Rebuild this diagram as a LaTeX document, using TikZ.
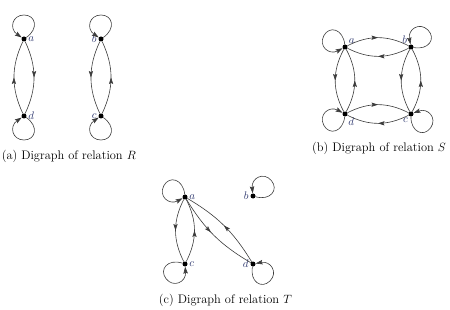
\documentclass[tikz,border=0pt]{standalone}
\usetikzlibrary{arrows.meta,decorations.markings,calc}
\definecolor{edgeGray}{RGB}{60,60,60}
\definecolor{labelBlue}{RGB}{45,55,110}

\begin{document}
\begin{tikzpicture}[
    x=1pt, y=-1pt,
    vtx/.style={circle, fill=black, inner sep=0pt, minimum size=5pt, label distance=4pt},
    lbl/.style={text=labelBlue, inner sep=1.5pt, font=\fontsize{10.5}{11}\selectfont},
    arcedge/.style={draw=edgeGray, line width=0.6pt, postaction={decorate},
        decoration={markings, mark=at position #1 with {\arrow{Stealth[length=6.5pt,width=4.2pt,inset=1.2pt]}}}},
    arcedge/.default=0.5,
    % self-loop: #1 = direction of the loop, #2 = 1 (arrow on the left side) or -1
    selfloop/.style 2 args={draw=edgeGray, line width=0.6pt, -{Stealth[length=7pt,width=4.5pt,inset=1.2pt]},
        to path={.. controls ($(\tikztostart)+({#1-56*#2}:18pt)$)
                 and ($(\tikztostart)+(#1:24pt)+({#1-90*#2}:12pt)$) .. ($(\tikztostart)+(#1:24pt)$)
                 .. controls ($(\tikztostart)+(#1:24pt)+({#1+90*#2}:12pt)$)
                 and ($(\tikztotarget)+({#1+56*#2}:18pt)$) .. (\tikztotarget)}},
    capt/.style={anchor=east, inner sep=0pt, font=\fontsize{12.4}{14}\selectfont}
]
\useasboundingbox (0,0) rectangle (450,310);

% (a) relation R
\node[vtx, label={[lbl]right:$a$}] (Ra) at (24,39) {};
\node[vtx, label={[lbl]right:$d$}] (Rd) at (24,116) {};
\node[vtx, label={[lbl]left:$b$}] (Rb) at (101,39) {};
\node[vtx, label={[lbl]left:$c$}] (Rc) at (101,116) {};

\draw[arcedge] (Ra) to[bend left=25] (Rd);
\draw[arcedge] (Rd) to[bend left=25] (Ra);
\draw[arcedge] (Rb) to[bend right=25] (Rc);
\draw[arcedge] (Rc) to[bend right=25] (Rb);

\draw[selfloop={90}{1}] (Ra) to (Ra);
\draw[selfloop={270}{-1}] (Rd) to (Rd);
\draw[selfloop={90}{1}] (Rb) to (Rb);
\draw[selfloop={270}{-1}] (Rc) to (Rc);

% (b) relation S
\node[vtx, label={[lbl]40:$a$}] (Sa) at (345,47) {};
\node[vtx, label={[lbl]150:$b$}] (Sb) at (411,47) {};
\node[vtx, label={[lbl]-55:$d$}] (Sd) at (345,114) {};
\node[vtx, label={[lbl]235:$c$}] (Sc) at (411,114) {};

\draw[arcedge] (Sa) to[bend left=27] (Sb);
\draw[arcedge] (Sb) to[bend left=27] (Sa);
\draw[arcedge] (Sa) to[bend right=28] (Sd);
\draw[arcedge] (Sd) to[bend right=28] (Sa);
\draw[arcedge] (Sb) to[bend right=28] (Sc);
\draw[arcedge] (Sc) to[bend right=28] (Sb);
\draw[arcedge] (Sd) to[bend left=27] (Sc);
\draw[arcedge] (Sc) to[bend left=27] (Sd);

\draw[selfloop={152}{1}] (Sa) to (Sa);
\draw[selfloop={45}{1}] (Sb) to (Sb);
\draw[selfloop={208}{-1}] (Sd) to (Sd);
\draw[selfloop={-35}{1}] (Sc) to (Sc);

% (c) relation T
\node[vtx, label={[lbl]right:$a$}] (Ta) at (185,197) {};
\node[vtx, label={[lbl]left:$b$}] (Tb) at (253,196) {};
\node[vtx, label={[lbl]right:$c$}] (Tc) at (185,264) {};
\node[vtx, label={[lbl]left:$d$}] (Td) at (253,264) {};

\draw[arcedge] (Ta) to[bend right=27] (Tc);
\draw[arcedge] (Tc) to[bend right=27] (Ta);
\draw[arcedge=0.45] (Ta) to[bend right=14] (Td);
\draw[arcedge] (Td) to[bend right=14] (Ta);

\draw[selfloop={152}{1}] (Ta) to (Ta);
\draw[selfloop={40}{1}] (Tb) to (Tb);
\draw[selfloop={218}{1}] (Tc) to (Tc);
\draw[selfloop={-45}{1}] (Td) to (Td);

% captions
\node[capt] (capR) at (136,156) {(a) Digraph of relation $R$};
\node[capt] (capS) at (446,148) {(b) Digraph of relation $S$};
\node[capt] (capT) at (292,300) {(c) Digraph of relation $T$};
\end{tikzpicture}
\end{document}
